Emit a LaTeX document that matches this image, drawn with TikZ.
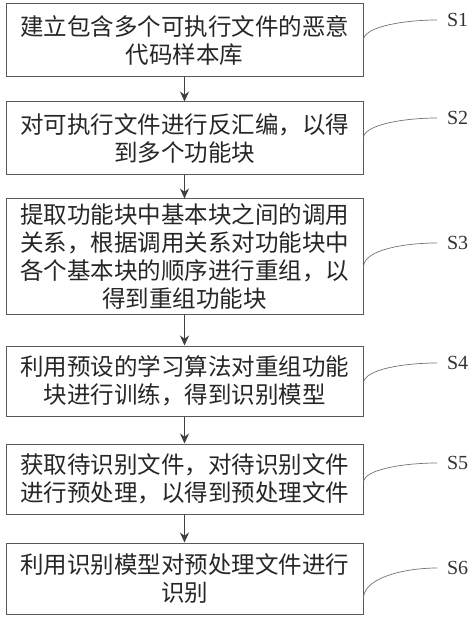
\documentclass[tikz,border=0pt]{standalone}
\usepackage{fontspec}
\setmainfont{Liberation Serif}
\newfontfamily\cjk{Noto Sans CJK SC}
\usetikzlibrary{arrows.meta}

\begin{document}
\begin{tikzpicture}[x=1pt,y=-1pt]
\tikzstyle{stepbox}=[rectangle,draw=black!65,line width=1pt,text width=357pt,align=center,inner sep=0pt,font=\cjk\fontsize{23.5}{28}\selectfont,text=black!85]
\tikzstyle{steplabel}=[anchor=west,inner sep=0pt,outer xsep=10pt,font=\fontsize{20}{20}\selectfont,text=black!80]
\tikzstyle{flow}=[-{Stealth[length=10pt,width=9pt]},line width=1.1pt,draw=black!75,fill=black!75]
\tikzstyle{lead}=[draw=black!55,line width=0.7pt]

\useasboundingbox (0,0) rectangle (474,620);

% steps
\node[stepbox,minimum height=73pt] (b1) at (184.5,40.5) {建立包含多个可执行文件的恶意\\代码样本库};
\node[stepbox,minimum height=73pt] (b2) at (184.5,138.5) {对可执行文件进行反汇编，以得\\到多个功能块};
\node[stepbox,minimum height=115pt] (b3) at (184.5,256.5) {提取功能块中基本块之间的调用\\关系，根据调用关系对功能块中\\各个基本块的顺序进行重组，以\\得到重组功能块};
\node[stepbox,minimum height=70pt] (b4) at (184.5,381) {利用预设的学习算法对重组功能\\块进行训练，得到识别模型};
\node[stepbox,minimum height=70pt] (b5) at (184.5,479) {获取待识别文件，对待识别文件\\进行预处理，以得到预处理文件};
\node[stepbox,minimum height=71pt] (b6) at (184.5,578.5) {利用识别模型对预处理文件进行\\识别};

\draw[flow] (b1) -- (b2);
\draw[flow] (b2) -- (b3);
\draw[flow] (b3) -- (b4);
\draw[flow] (b4) -- (b5);
\draw[flow] (b5) -- (b6);

% step labels
\node[steplabel] (l1) at (437,20) {S1};
\node[steplabel] (l2) at (437,118) {S2};
\node[steplabel] (l3) at (437,243) {S3};
\node[steplabel] (l4) at (437,363) {S4};
\node[steplabel] (l5) at (437,463) {S5};
\node[steplabel] (l6) at (437,568) {S6};

\draw[lead] ([yshift=1pt]b1.east) .. controls +(1,-13) and +(-32,0) .. (l1.west);
\draw[lead] ([yshift=1pt]b2.east) .. controls +(1,-13) and +(-32,0) .. (l2.west);
\draw[lead] ([yshift=-10pt]b3.east) .. controls +(1,-17) and +(-32,0) .. (l3.west);
\draw[lead] ([yshift=-2pt]b4.east) .. controls +(1,-14) and +(-32,0) .. (l4.west);
\draw[lead] ([yshift=-3pt]b5.east) .. controls +(1,-13) and +(-32,0) .. (l5.west);
\draw[lead] ([yshift=-19pt]b6.east) .. controls +(1,-20) and +(-32,0) .. (l6.west);

\end{tikzpicture}
\end{document}
